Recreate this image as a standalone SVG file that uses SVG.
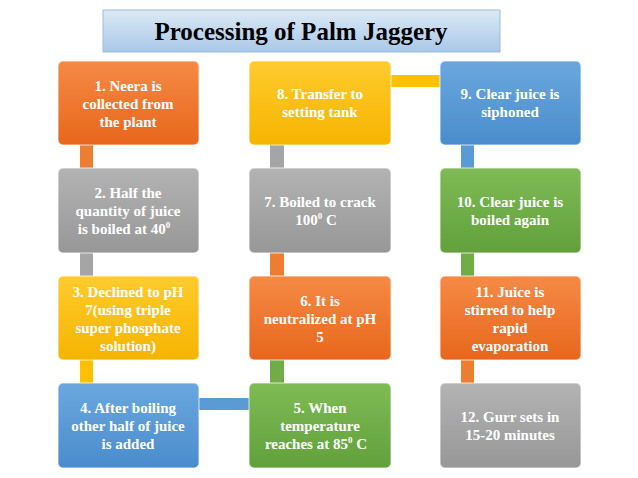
<svg xmlns="http://www.w3.org/2000/svg" width="638" height="478" viewBox="0 0 638 478">
<defs>
<linearGradient id="tg" x1="0" y1="0" x2="0" y2="1"><stop offset="0" stop-color="#dce9f5"/><stop offset="1" stop-color="#a9c8e8"/></linearGradient>
<linearGradient id="go" x1="0" y1="0" x2="0" y2="1"><stop offset="0" stop-color="#f58a45"/><stop offset="1" stop-color="#e8661c"/></linearGradient>
<linearGradient id="gg" x1="0" y1="0" x2="0" y2="1"><stop offset="0" stop-color="#b3b3b3"/><stop offset="1" stop-color="#979797"/></linearGradient>
<linearGradient id="gy" x1="0" y1="0" x2="0" y2="1"><stop offset="0" stop-color="#ffcb2e"/><stop offset="1" stop-color="#f5b400"/></linearGradient>
<linearGradient id="gb" x1="0" y1="0" x2="0" y2="1"><stop offset="0" stop-color="#6aa7de"/><stop offset="1" stop-color="#4a8ccc"/></linearGradient>
<linearGradient id="gn" x1="0" y1="0" x2="0" y2="1"><stop offset="0" stop-color="#7ebb55"/><stop offset="1" stop-color="#62a03b"/></linearGradient>
</defs>
<style>
.b{stroke:rgba(255,255,255,0.5);stroke-width:1.5}
.t{font-family:"Liberation Serif",serif;font-weight:bold;font-size:15px;fill:#fff;text-anchor:middle}
</style>
<rect width="638" height="478" fill="#fff"/>
<g id="title"><rect x="103" y="10" width="397" height="42" fill="url(#tg)" stroke="#9bbbdc"/>
<text x="301" y="40" font-family="Liberation Serif,serif" font-weight="bold" font-size="25" text-anchor="middle" fill="#000">Processing of Palm Jaggery</text></g>
<g id="connectors">
<rect x="80" y="144" width="13" height="25" fill="#ed7d31"/>
<rect x="80" y="252" width="13" height="25" fill="#a5a5a5"/>
<rect x="80" y="359" width="13" height="25" fill="#ffc000"/>
<rect x="198" y="398" width="52" height="12" fill="#5b9bd5"/>
<rect x="270" y="359" width="14" height="25" fill="#70ad47"/>
<rect x="270" y="252" width="14" height="25" fill="#ed7d31"/>
<rect x="270" y="144" width="14" height="25" fill="#a5a5a5"/>
<rect x="390" y="75" width="51" height="12" fill="#ffc000"/>
<rect x="461" y="144" width="13" height="25" fill="#5b9bd5"/>
<rect x="461" y="252" width="13" height="25" fill="#70ad47"/>
<rect x="461" y="359" width="13" height="25" fill="#ed7d31"/>
</g>
<g id="n1"><rect class="b" x="58" y="61" width="141" height="84" rx="5" fill="url(#go)"/><text class="t" x="128"><tspan x="128" y="91">1. Neera is</tspan><tspan x="128" y="109">collected from</tspan><tspan x="128" y="127">the plant</tspan></text></g>
<g id="n2"><rect class="b" x="58" y="168" width="141" height="85" rx="5" fill="url(#gg)"/><text class="t"><tspan x="128" y="198">2. Half the</tspan><tspan x="128" y="216">quantity of juice</tspan><tspan x="124" y="234">is boiled at 40</tspan><tspan font-size="9" dy="-6">0</tspan></text></g>
<g id="n3"><rect class="b" x="58" y="276" width="141" height="84" rx="5" fill="url(#gy)"/><text class="t"><tspan x="128" y="297">3. Declined to pH</tspan><tspan x="128" y="315">7(using triple</tspan><tspan x="128" y="333">super phosphate</tspan><tspan x="128" y="351">solution)</tspan></text></g>
<g id="n4"><rect class="b" x="58" y="383" width="141" height="85" rx="5" fill="url(#gb)"/><text class="t"><tspan x="128" y="413">4. After boiling</tspan><tspan x="128" y="431">other half of juice</tspan><tspan x="128" y="449">is added</tspan></text></g>
<g id="n5"><rect class="b" x="249" y="383" width="142" height="85" rx="5" fill="url(#gn)"/><text class="t"><tspan x="320" y="413">5. When</tspan><tspan x="320" y="431">temperature</tspan><tspan x="316" y="449">reaches at 85</tspan><tspan font-size="9" dy="-6">0</tspan><tspan dy="6"> C</tspan></text></g>
<g id="n6"><rect class="b" x="249" y="276" width="142" height="84" rx="5" fill="url(#go)"/><text class="t"><tspan x="320" y="306">6. It is</tspan><tspan x="320" y="324">neutralized at pH</tspan><tspan x="320" y="342">5</tspan></text></g>
<g id="n7"><rect class="b" x="249" y="168" width="142" height="85" rx="5" fill="url(#gg)"/><text class="t"><tspan x="320" y="207">7. Boiled to crack</tspan><tspan x="316" y="225">100</tspan><tspan font-size="9" dy="-6">0</tspan><tspan dy="6"> C</tspan></text></g>
<g id="n8"><rect class="b" x="249" y="61" width="142" height="84" rx="5" fill="url(#gy)"/><text class="t"><tspan x="320" y="99">8. Transfer to</tspan><tspan x="320" y="117">setting tank</tspan></text></g>
<g id="n9"><rect class="b" x="440" y="61" width="141" height="84" rx="5" fill="url(#gb)"/><text class="t"><tspan x="510" y="99">9. Clear juice is</tspan><tspan x="510" y="117">siphoned</tspan></text></g>
<g id="n10"><rect class="b" x="440" y="168" width="141" height="85" rx="5" fill="url(#gn)"/><text class="t"><tspan x="510" y="207">10.  Clear juice is</tspan><tspan x="510" y="225">boiled again</tspan></text></g>
<g id="n11"><rect class="b" x="440" y="276" width="141" height="84" rx="5" fill="url(#go)"/><text class="t"><tspan x="510" y="297">11. Juice is</tspan><tspan x="510" y="315">stirred to help</tspan><tspan x="510" y="333">rapid</tspan><tspan x="510" y="351">evaporation</tspan></text></g>
<g id="n12"><rect class="b" x="440" y="383" width="141" height="85" rx="5" fill="url(#gg)"/><text class="t"><tspan x="510" y="422">12.  Gurr sets in</tspan><tspan x="510" y="440">15-20 minutes</tspan></text></g>
</svg>
